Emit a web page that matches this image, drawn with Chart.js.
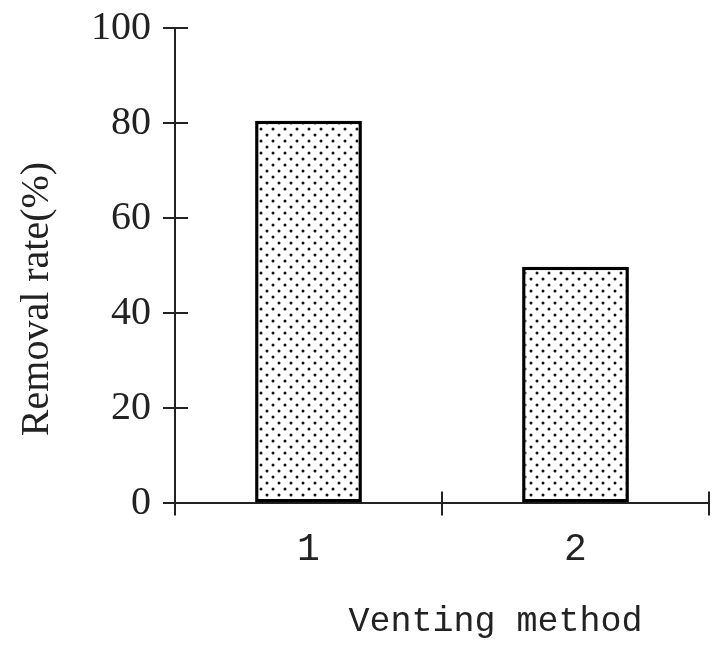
<!DOCTYPE html>
<html>
<head>
<meta charset="utf-8">
<script src="https://cdn.jsdelivr.net/npm/chart.js@4"></script>
<style>
  body { margin: 0; background: #fff; }
</style>
</head>
<body>
<canvas id="myChart" width="720" height="667"></canvas>
<script>
var categories = ['1', '2'];
var removalRate = [80.5, 49.8];
var yTicks = [0, 20, 40, 60, 80, 100];
var xTitle = 'Venting method';
var yTitle = 'Removal rate(%)';

var ctx = document.getElementById('myChart').getContext('2d');

// dotted fill like the old printed figure
function dotPattern(){
  var c = document.createElement('canvas');
  c.width = 12; c.height = 12;
  var p = c.getContext('2d');
  p.fillStyle = '#fff';
  p.fillRect(0, 0, 12, 12);
  p.fillStyle = '#111';
  [[3, 3], [9, 9]].forEach(function(d){
    p.beginPath();
    p.arc(d[0], d[1], 1.5, 0, Math.PI * 2);
    p.fill();
  });
  return ctx.createPattern(c, 'repeat');
}

// ticks cross the axis line (chart.js only draws the outer half),
// and both axis titles sit off-centre in the original
var extras = {
  id: 'extras',
  afterDraw: function(chart){
    var c = chart.ctx, a = chart.chartArea;
    var y = chart.scales.y;
    c.save();
    c.strokeStyle = '#222';
    c.lineWidth = 2;
    c.beginPath();
    yTicks.forEach(function(v){
      var py = Math.round(y.getPixelForValue(v));
      c.moveTo(a.left, py);
      c.lineTo(a.left + 13, py);
    });
    for (var i = 1; i <= categories.length; i++){
      var px = a.left + (a.right - a.left) * i / categories.length;
      c.moveTo(px, a.bottom);
      c.lineTo(px, a.bottom - 12);
    }
    c.stroke();

    c.fillStyle = '#222';
    c.textAlign = 'center';
    c.textBaseline = 'middle';
    c.font = '35px "Liberation Mono"';
    c.fillText(xTitle, a.left + (a.right - a.left) * 0.6, 622);

    c.translate(37, a.top + (a.bottom - a.top) * 0.57);
    c.rotate(-Math.PI / 2);
    c.font = '40px "Liberation Serif"';
    c.fillText(yTitle, 0, 0);
    c.restore();
  }
};

var myChart = new Chart(ctx, {
  type: 'bar',
  data: {
    labels: categories,
    datasets: [{
      data: removalRate,
      backgroundColor: dotPattern(),
      borderColor: '#000',
      borderWidth: 3.5,
      borderSkipped: false,
      categoryPercentage: 1,
      barPercentage: 0.4
    }]
  },
  options: {
    responsive: false,
    animation: false,
    layout: {
      padding: { top: 20, right: 11, bottom: 82, left: 79 }
    },
    plugins: {
      legend: { display: false },
      tooltip: { enabled: false }
    },
    scales: {
      x: {
        offset: true,
        grid: {
          offset: true,
          drawOnChartArea: false,
          drawTicks: true,
          tickLength: 12,
          color: '#222',
          lineWidth: 2
        },
        border: { color: '#222', width: 2 },
        ticks: {
          color: '#222',
          font: { family: '"Liberation Mono"', size: 38 },
          padding: 12
        }
      },
      y: {
        min: 0,
        max: 100,
        afterBuildTicks: function(axis){
          axis.ticks = yTicks.map(function(v){ return { value: v }; });
        },
        grid: {
          drawOnChartArea: false,
          drawTicks: true,
          tickLength: 12,
          color: '#222',
          lineWidth: 2
        },
        border: { color: '#222', width: 2 },
        ticks: {
          color: '#222',
          font: { family: '"Liberation Serif"', size: 40, lineHeight: 0.8 },
          padding: 12
        }
      }
    }
  },
  plugins: [extras]
});
</script>
</body>
</html>
